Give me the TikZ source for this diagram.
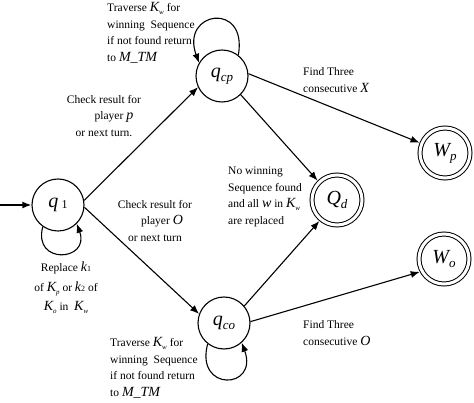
\documentclass[tikz,border=0pt]{standalone}
\usepackage{fontspec}
\setmainfont{Liberation Serif}
\usetikzlibrary{arrows.meta}
\newcommand{\mi}[1]{{\fontsize{14}{14}\selectfont\itshape #1}}
\newcommand{\msub}[2]{{\fontsize{14}{14}\selectfont\itshape #1}\raisebox{-3pt}{\fontsize{7}{7}\selectfont\itshape #2}}
\newcommand{\bsub}[2]{#1\raisebox{-4pt}{\fontsize{13}{13}\selectfont #2}}
\begin{document}
\begin{tikzpicture}[x=1pt,y=1pt,
  state/.style={circle,draw,line width=1.1pt,minimum size=52pt,inner sep=0pt,font=\fontsize{20}{20}\selectfont\itshape},
  final/.style={circle,draw,line width=1pt,double,double distance=3pt,minimum size=50pt,inner sep=0pt,outer sep=2.5pt,font=\fontsize{20}{20}\selectfont\itshape},
  edge/.style={line width=1.1pt,-{Latex[length=9pt,width=7pt]}},
  lbl/.style={font=\fontsize{11.5}{16.5}\selectfont,inner sep=0pt}
]
\useasboundingbox (0,0) rectangle (474,402);

\node[state] (q1)  at (58,197)  {q\,\raisebox{-1pt}{\upshape\fontsize{12}{12}\selectfont 1}};
\node[state] (qcp) at (222,326) {\bsub{q}{cp}};
\node[state] (qco) at (224,79)  {\bsub{q}{co}};
\node[final] (Qd)  at (337,202) {\bsub{Q}{d}};
\node[final] (Wp)  at (445,249) {\bsub{W}{p}};
\node[final] (Wo)  at (444,143) {\bsub{W}{o}};
\coordinate (start) at (0,197);

\draw[edge,line width=1.6pt] (start) -- (q1);
\draw[edge] (q1.10) -- (qcp.205);
\draw[edge] (q1.-5) -- (qco.160);
\draw[edge] (qcp.5) -- (Wp.158);
\draw[edge] (qcp.-45) -- (Qd.135);
\draw[edge] (qco.40) -- (Qd.230);
\draw[edge] (qco.3) -- (Wo.208);

\draw[edge] (qcp.52) to[out=80,in=110,distance=55pt] (qcp.150);
\draw[edge] (q1.235) to[out=255,in=290,distance=40pt] (q1.315);
\draw[edge] (qco.232) to[out=255,in=290,distance=50pt] (qco.312);

\node[lbl,align=left,anchor=west] (t1) at (107,369)
  {Traverse \msub{K}{w} for\\winning\ \ Sequence\\if not found return\\to \mi{M\_TM}};
\node[lbl,align=center] (c1) at (104,286)
  {Check result for\\\hspace*{20pt}player \mi{p}\\or next turn.};
\node[lbl,align=center] (c2) at (155,181)
  {Check result for\\\hspace*{14pt}player \mi{O}\\or next turn};
\node[lbl,align=center,font=\fontsize{11.5}{19.5}\selectfont] (r1) at (66,114)
  {Replace \mi{k}{\fontsize{8}{8}\selectfont 1}\\of \msub{K}{p} or \mi{k}{\fontsize{8}{8}\selectfont 2} of\\\msub{K}{o} in \ \msub{K}{w}};
\node[lbl,align=left,anchor=west] (n1) at (228,205)
  {No winning\\Sequence found\\and all \mi{w} in \msub{K}{w}\\are replaced};
\node[lbl,align=left,anchor=west] (f1) at (303,322)
  {Find Three\\consecutive \mi{X}};
\node[lbl,align=left,anchor=west] (f2) at (303,69)
  {Find Three\\consecutive \mi{O}};
\node[lbl,align=left,anchor=west] (t2) at (110,34)
  {Traverse \msub{K}{w} for\\winning\ \ Sequence\\if not found return\\to \mi{M\_TM}};
\end{tikzpicture}
\end{document}
